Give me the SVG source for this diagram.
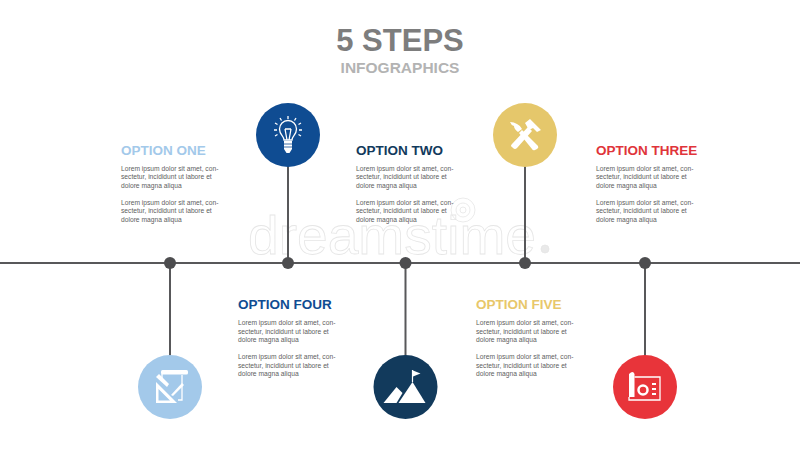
<svg xmlns="http://www.w3.org/2000/svg" width="800" height="451" viewBox="0 0 800 451">
<style>
text{font-family:"Liberation Sans",Arial,sans-serif}
.h{font-size:13.500px;font-weight:700}
.b{font-size:6.700px;fill:#5e5e5e}
.ln{stroke:#58585a;stroke-width:2;fill:none}
.dot{fill:#4d4d4f}
.w{fill:#fff;stroke:none}
.o{fill:none;stroke:#fff;stroke-width:1.300}
</style>
<defs>
<g id="lorem">
<text class="b" x="0" y="0">Lorem ipsum dolor sit amet, con-</text>
<text class="b" x="0" y="8.500">sectetur, incididunt ut labore et</text>
<text class="b" x="0" y="17">dolore magna aliqua</text>
<text class="b" x="0" y="34">Lorem ipsum dolor sit amet, con-</text>
<text class="b" x="0" y="42.500">sectetur, incididunt ut labore et</text>
<text class="b" x="0" y="51">dolore magna aliqua</text>
</g>
</defs>
<rect width="800" height="451" fill="#fff"/>
<g id="watermark" fill="none" stroke="#e6e6e6" stroke-width="0.800">
<text x="248" y="254" font-size="54" textLength="288" lengthAdjust="spacingAndGlyphs">dreamstime</text>
<circle cx="463" cy="210" r="12"/><circle cx="463" cy="210" r="7"/><circle cx="463" cy="210" r="3"/>
<circle cx="545" cy="249" r="4" fill="#e9e9e9"/>
</g>
<g id="title">
<text x="400" y="50.500" text-anchor="middle" font-size="31" font-weight="700" fill="#7d7d7d">5 STEPS</text>
<text x="400" y="73" text-anchor="middle" font-size="15.500" font-weight="700" fill="#b3b3b3">INFOGRAPHICS</text>
</g>
<g id="connectors">
<path class="ln" d="M0 263H800"/>
<path class="ln" d="M170 263V356M288 166V263M405.500 263V356M525 166V263M645 263V356"/>
<circle class="dot" cx="170" cy="263" r="6"/>
<circle class="dot" cx="288" cy="263" r="6"/>
<circle class="dot" cx="405.500" cy="263" r="6"/>
<circle class="dot" cx="525" cy="263" r="6"/>
<circle class="dot" cx="645" cy="263" r="6"/>
</g>
<g id="option-one">
<text class="h" x="121" y="155" fill="#a3c9ea">OPTION ONE</text>
<use href="#lorem" x="121" y="170.500"/>
<circle cx="170" cy="387" r="32" fill="#a3c9ea"/>
<g transform="translate(170 387)">
<path class="o" d="M-8-13V-8M12-12V13H8"/>
<rect class="w" x="-9" y="-17" width="27" height="4.500" rx="1.500"/>
<path class="w" d="M-14-10L-11-13L-1-3L-3 0Z"/>
<path class="w" d="M1 8L12-4L14-2L3 9Z"/>
<path class="w" fill-rule="evenodd" d="M-14-5L7 16H-14ZM-11.500 2V13.500H0Z"/>
</g>
</g>
<g id="option-two">
<text class="h" x="356" y="155" fill="#123a5c">OPTION TWO</text>
<use href="#lorem" x="356" y="170.500"/>
<circle cx="288" cy="135" r="32" fill="#0f4c92"/>
<g transform="translate(288 135)">
<path class="o" d="M-4 5C-4 1-8.500 0-8.500-6A8.500 8.500 0 0 1 8.500-6C8.500 0 4 1 4 5ZM-3-6L-1 5M3-6L1 5M-3-6H3"/>
<path class="w" d="M-4 6H4V14L1.500 18H-1.500L-4 14Z"/>
<path d="M-4 9H4M-4 12H4" stroke="#0f4c92" stroke-width="0.800"/>
<path class="o" d="M0-19V-16M-8-17L-6.500-14.500M8-17L6.500-14.500M-13-12L-10.500-10.500M13-12L10.500-10.500M-14-5H-11M14-5H11M-13 1L-10.500-.5M13 1L10.500-.5"/>
</g>
</g>
<g id="option-three">
<text class="h" x="596" y="155" fill="#e0343a">OPTION THREE</text>
<use href="#lorem" x="596" y="170.500"/>
<circle cx="645" cy="387" r="32" fill="#e8343a"/>
<g transform="translate(645 387)">
<path class="w" d="M-16-13Q-12-17-10.500-13V10H-16Z"/>
<path class="o" d="M-10.500-10H15V13H-16V10"/>
<circle cx="-2" cy="3" r="4.500" fill="none" stroke="#fff" stroke-width="2.500"/>
<path d="M7-3H11M7 2H11M7 7H11" stroke="#fff" stroke-width="1.800"/>
</g>
</g>
<g id="option-four">
<text class="h" x="238" y="309" fill="#0f4c92">OPTION FOUR</text>
<use href="#lorem" x="238" y="325"/>
<circle cx="405.500" cy="387" r="32" fill="#123a5c"/>
<g transform="translate(405.500 387)">
<path class="w" d="M-22 16L-9 0L-3 6L-9 16Z"/>
<path class="w" d="M-7 16L7-5L20 16Z"/>
<path d="M7-5V-17" stroke="#fff" stroke-width="1.200"/>
<path class="w" d="M7.500-16.500L15-13.500L7.500-10.500Z"/>
</g>
</g>
<g id="option-five">
<text class="h" x="476" y="309" fill="#e8c76a">OPTION FIVE</text>
<use href="#lorem" x="476" y="325"/>
<circle cx="525" cy="135" r="32" fill="#e5c76b"/>
<g transform="translate(525 135)">
<path class="w" d="M-13 9L3-8L7-4L-8 13Q-10 15-12 13L-13 12Q-15 11-13 9Z"/>
<path class="w" d="M0-12L5-16L16-5L12-3L8-7L4-5Z"/>
<path class="w" d="M13 11Q14 13 12 14L10 15Q8 16 7 14L-6-2L-3-5Z"/>
<path class="w" d="M-7-3Q-11-6-11-9Q-14-10-15-13Q-11-13-8-11Q-4-9-3-6Z"/>
</g>
</g>
</svg>
